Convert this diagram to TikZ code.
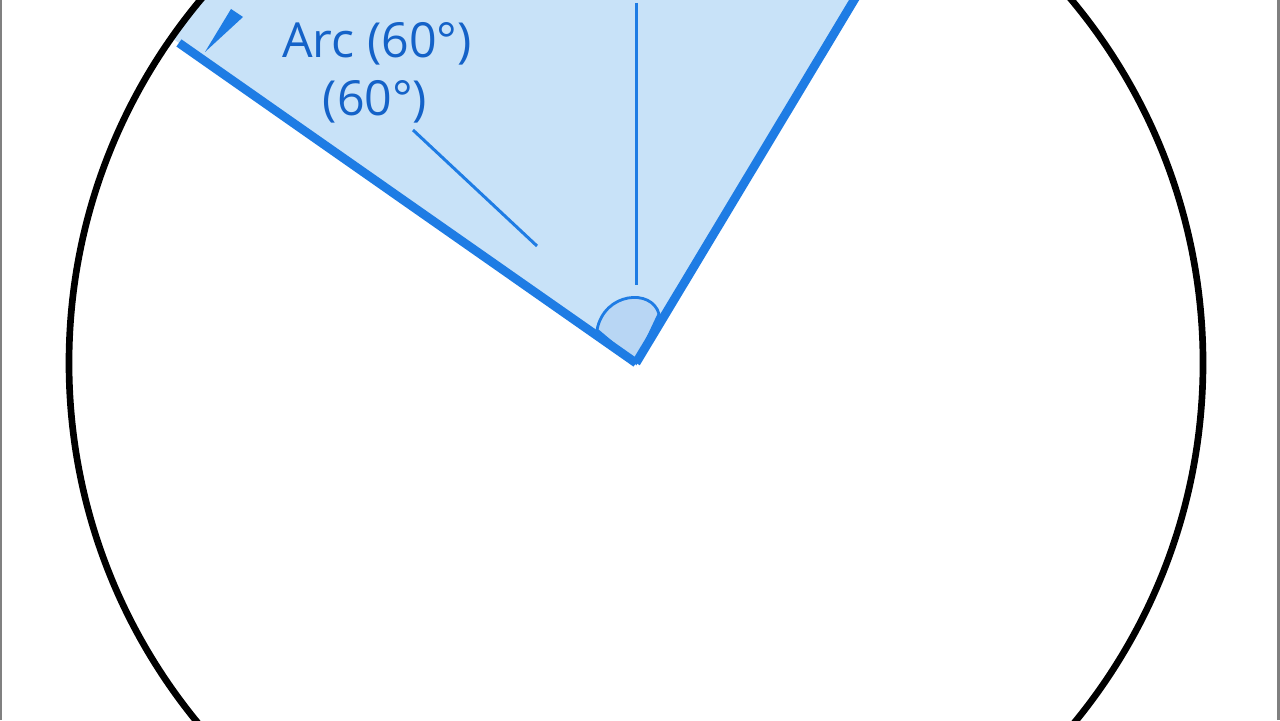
\documentclass[tikz,border=0pt]{standalone}
\usepackage{fontspec}
\setmainfont{Open Sans}
\usetikzlibrary{arrows.meta}
\definecolor{edgeblue}{RGB}{30,124,228}
\definecolor{sectfill}{RGB}{200,226,248}
\definecolor{angfill}{RGB}{184,214,244}
\definecolor{textblue}{RGB}{20,98,200}
\begin{document}
\begin{tikzpicture}[x=0.02cm, y=0.02cm,
		edge/.style={line width=5pt, edgeblue},
		leader/.style={line width=1.7pt, edgeblue},
		lbl/.style={text=textblue, font=\fontsize{27.5}{33}\selectfont, inner sep=0pt}]
	\clip (0,0) rectangle (1280,720);
	\fill[white] (0,0) rectangle (1280,720);
	% centre of the circle, radius in px
	\newcommand{\rad}{567}
	\coordinate (O) at (636,357);
	\path (O) ++(145:\rad) coordinate (Lc);
	\path (O) ++(145:558) coordinate (L);
	\path (O) ++(59:\rad) coordinate (R);
	% the shaded sector
	\fill[sectfill] (O) -- (Lc) arc[start angle=145, end angle=59, radius=\rad] -- cycle;
	% angle mark at the centre
	\coordinate (am1) at (597,390);
	\coordinate (am2) at (659,406);
	\filldraw[fill=angfill, draw=edgeblue, line width=1.6pt]
		(O) -- (am1) .. controls (604,428) and (652,432) .. (am2) -- cycle;
	% circle
	\draw[line width=3.8pt] (O) circle[radius=\rad];
	% sector sides
	\draw[edge] (O) -- (L);
	\draw[edge] (O) -- (R);
	% small tick on the arc
	\fill[edgeblue] (205,668) -- (231,711) -- (243,703) -- cycle;
	% labels and leaders
	\node[lbl] (arclbl) at (377,676) {Arc (60°)};
	\node[lbl] (anglbl) at (375,618) {(60°)};
	\coordinate (ld1) at (413,590);
	\coordinate (ld2) at (537,474);
	\draw[leader] (ld1) -- (ld2);
	\coordinate (vt1) at (636,717);
	\coordinate (vt2) at (636,435);
	\draw[leader] (vt1) -- (vt2);
	% frame edges
	\draw[gray, line width=1.2pt] (1,0) -- (1,720);
	\draw[gray, line width=1.2pt] (1278.5,0) -- (1278.5,720);
\end{tikzpicture}
\end{document}
